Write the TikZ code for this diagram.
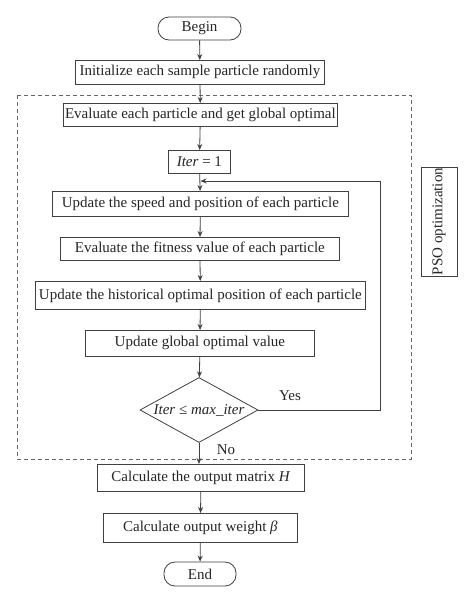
\documentclass[tikz,border=0pt]{standalone}
\usepackage{fontspec}
\setmainfont{Liberation Serif}
\usetikzlibrary{shapes.geometric,arrows.meta}
\begin{document}
\begin{tikzpicture}[x=1pt,y=-1pt,
  every node/.style={font=\fontsize{15}{17}\selectfont, text=black!85},
  proc/.style={draw=black!75, line width=0.8pt, inner sep=0pt, rectangle, anchor=north west},
  term/.style={draw=black!75, line width=0.8pt, inner sep=0pt, rounded corners=11pt},
  flow/.style={draw=black!75, line width=0.8pt, -{Stealth[length=6pt,width=5pt]}},
  plain/.style={draw=black!75, line width=0.8pt}]
\useasboundingbox[fill=white] (0,0) rectangle (474,603);
% dashed box
\draw[black!60, line width=0.8pt, dash pattern=on 4pt off 3pt] (17,95) rectangle (411,459);
% nodes
\node[term, minimum width=83pt, minimum height=23pt] (begin) at (199.5,28.5) {Begin};
\node[proc, minimum width=249pt, minimum height=24pt] (init) at (75,60) {};
\node at (init.center) {Initialize each sample particle randomly};
\node[proc, minimum width=274pt, minimum height=23pt] (eval) at (63,103) {};
\node at (eval.center) {Evaluate each particle and get global optimal};
\node[proc, minimum width=62pt, minimum height=23pt] (iter) at (168,150) {};
\node at (iter.center) {\textit{Iter} = 1};
\node[proc, minimum width=296pt, minimum height=25pt] (speed) at (52,191) {};
\node at (speed.center) {Update the speed and position of each particle};
\node[proc, minimum width=279pt, minimum height=23pt] (fit) at (60,237) {};
\node at (fit.center) {Evaluate the fitness value of each particle};
\node[proc, minimum width=330pt, minimum height=28pt] (hist) at (35,281) {};
\node at (hist.center) {Update the historical optimal position of each particle};
\node[proc, minimum width=229pt, minimum height=26pt] (glob) at (85,330) {};
\node at (glob.center) {Update global optimal value};
\node[diamond, draw=black!75, line width=0.8pt, inner sep=0pt, minimum width=118pt, minimum height=65pt] (dec) at (199,410) {};
\node at (dec.center) {\textit{Iter} ≤ \textit{max\_iter}};
\node[proc, minimum width=207pt, minimum height=27pt] (calcH) at (97,464) {};
\node at (calcH.center) {Calculate the output matrix \textit{H}};
\node[proc, minimum width=194pt, minimum height=29pt] (calcB) at (103,513) {};
\node at (calcB.center) {Calculate output weight \textit{β}};
\node[term, minimum width=72pt, minimum height=24pt] (end) at (200,574) {End};
\node[draw=black!75, line width=0.8pt, inner sep=0pt, rotate=90, minimum width=109pt, minimum height=36pt] (pso) at (439,221.5) {PSO optimization};
% coordinates
\coordinate (loopc) at (380,181);
\coordinate (join) at (199.5,181);
% connectors
\draw[flow] (begin) -- (init);
\draw[flow] (init) -- (eval);
\draw[flow] (eval) -- (iter);
\draw[flow] (iter) -- (speed);
\draw[flow] (speed) -- (fit);
\draw[flow] (fit) -- (hist);
\draw[flow] (hist) -- (glob);
\draw[flow] (glob) -- (dec);
\draw[plain] (dec.east) -| (loopc);
\draw[flow] (loopc) -- ([xshift=1pt]join);
\draw[flow] (dec.south) -- (calcH.north -| dec.south);
\draw[flow] (calcH) -- (calcB);
\draw[flow] (calcB) -- (end);
\node (yes) at (290,396) {Yes};
\node (no) at (226,450) {No};
\end{tikzpicture}
\end{document}
